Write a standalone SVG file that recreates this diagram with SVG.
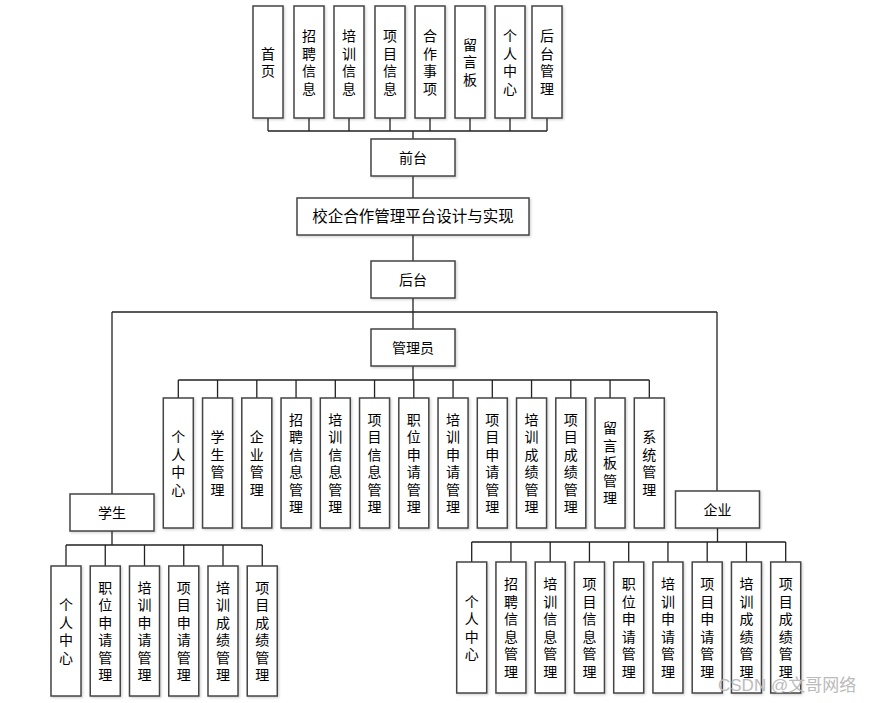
<svg xmlns="http://www.w3.org/2000/svg" width="870" height="703" viewBox="0 0 870 703">
<defs>
<filter id="sh" x="-20%" y="-20%" width="140%" height="140%"><feDropShadow dx="1.2" dy="1.2" stdDeviation="0.8" flood-color="#000" flood-opacity="0.18"/></filter>
</defs>
<style>
.b{fill:#fff;stroke:#444;stroke-width:1.5;filter:url(#sh)}
.t{font-family:"Noto Sans CJK SC","Liberation Sans",sans-serif;font-size:14px;fill:#000;text-anchor:middle}
.v{writing-mode:vertical-rl;letter-spacing:3.5px}
.big{font-size:15.5px}
.c{fill:none;stroke:#222;stroke-width:1.3}
.wm{font-family:"Liberation Sans","Noto Sans CJK SC",sans-serif;font-size:17px;fill:#bbb}
</style>
<rect width="870" height="703" fill="#fff"/>
<g id="connectors" class="c">
<path d="M268,131H547M268,118V131M309,118V131M349,118V131M390,118V131M430,118V131M470,118V131M510,118V131M547,118V131M413,131V139"/>
<path d="M413,176V198M413,235V261M413,298V329M112,312H717M112,312V494M717,312V491"/>
<path d="M413,366V380M178.3,380H649.3M178.3,380V398M217.55,380V398M256.8,380V398M296.05,380V398M335.3,380V398M374.55,380V398M413.8,380V398M453.05,380V398M492.3,380V398M531.55,380V398M570.8,380V398M610.05,380V398M649.3,380V398"/>
<path d="M112,531V545M66,545H262.25M66,545V566M105.25,545V566M144.5,545V566M183.75,545V566M223,545V566M262.25,545V566"/>
<path d="M717.5,528V542M471.7,542H785.7M471.7,542V562M510.95,542V562M550.2,542V562M589.45,542V562M628.7,542V562M667.95,542V562M707.2,542V562M746.45,542V562M785.7,542V562"/>
</g>
<g id="front-items">
<g id="f1"><rect class="b" x="253" y="6" width="30" height="112"/><text class="t v" x="268" y="63.75">首页</text></g>
<g id="f2"><rect class="b" x="294" y="6" width="30" height="112"/><text class="t v" x="309" y="63.75">招聘信息</text></g>
<g id="f3"><rect class="b" x="334" y="6" width="30" height="112"/><text class="t v" x="349" y="63.75">培训信息</text></g>
<g id="f4"><rect class="b" x="375" y="6" width="30" height="112"/><text class="t v" x="390" y="63.75">项目信息</text></g>
<g id="f5"><rect class="b" x="415" y="6" width="30" height="112"/><text class="t v" x="430" y="63.75">合作事项</text></g>
<g id="f6"><rect class="b" x="455" y="6" width="30" height="112"/><text class="t v" x="470" y="63.75">留言板</text></g>
<g id="f7"><rect class="b" x="495" y="6" width="30" height="112"/><text class="t v" x="510" y="63.75">个人中心</text></g>
<g id="f8"><rect class="b" x="532" y="6" width="30" height="112"/><text class="t v" x="547" y="63.75">后台管理</text></g>
</g>
<g id="front"><rect class="b" x="371" y="139" width="84" height="37"/><text class="t" x="413" y="162.5">前台</text></g>
<g id="root"><rect class="b" x="297" y="198" width="232" height="37"/><text class="t big" x="413" y="222">校企合作管理平台设计与实现</text></g>
<g id="back"><rect class="b" x="371" y="261" width="84" height="37"/><text class="t" x="413" y="284.5">后台</text></g>
<g id="admin"><rect class="b" x="371" y="329" width="84" height="37"/><text class="t" x="413" y="352.5">管理员</text></g>
<g id="student"><rect class="b" x="70" y="494" width="84" height="37"/><text class="t" x="112" y="517.5">学生</text></g>
<g id="enterprise"><rect class="b" x="675.5" y="491" width="84" height="37"/><text class="t" x="717.5" y="514.5">企业</text></g>
<g id="admin-items">
<g id="a1"><rect class="b" x="163.3" y="398" width="30" height="130"/><text class="t v" x="178.3" y="464.75">个人中心</text></g>
<g id="a2"><rect class="b" x="202.55" y="398" width="30" height="130"/><text class="t v" x="217.55" y="464.75">学生管理</text></g>
<g id="a3"><rect class="b" x="241.8" y="398" width="30" height="130"/><text class="t v" x="256.8" y="464.75">企业管理</text></g>
<g id="a4"><rect class="b" x="281.05" y="398" width="30" height="130"/><text class="t v" x="296.05" y="464.75">招聘信息管理</text></g>
<g id="a5"><rect class="b" x="320.3" y="398" width="30" height="130"/><text class="t v" x="335.3" y="464.75">培训信息管理</text></g>
<g id="a6"><rect class="b" x="359.55" y="398" width="30" height="130"/><text class="t v" x="374.55" y="464.75">项目信息管理</text></g>
<g id="a7"><rect class="b" x="398.8" y="398" width="30" height="130"/><text class="t v" x="413.8" y="464.75">职位申请管理</text></g>
<g id="a8"><rect class="b" x="438.05" y="398" width="30" height="130"/><text class="t v" x="453.05" y="464.75">培训申请管理</text></g>
<g id="a9"><rect class="b" x="477.3" y="398" width="30" height="130"/><text class="t v" x="492.3" y="464.75">项目申请管理</text></g>
<g id="a10"><rect class="b" x="516.55" y="398" width="30" height="130"/><text class="t v" x="531.55" y="464.75">培训成绩管理</text></g>
<g id="a11"><rect class="b" x="555.8" y="398" width="30" height="130"/><text class="t v" x="570.8" y="464.75">项目成绩管理</text></g>
<g id="a12"><rect class="b" x="595.05" y="398" width="30" height="130"/><text class="t v" x="610.05" y="464.75">留言板管理</text></g>
<g id="a13"><rect class="b" x="634.3" y="398" width="30" height="130"/><text class="t v" x="649.3" y="464.75">系统管理</text></g>
</g>
<g id="student-items">
<g id="s1"><rect class="b" x="51" y="566" width="30" height="130"/><text class="t v" x="66" y="632.75">个人中心</text></g>
<g id="s2"><rect class="b" x="90.25" y="566" width="30" height="130"/><text class="t v" x="105.25" y="632.75">职位申请管理</text></g>
<g id="s3"><rect class="b" x="129.5" y="566" width="30" height="130"/><text class="t v" x="144.5" y="632.75">培训申请管理</text></g>
<g id="s4"><rect class="b" x="168.75" y="566" width="30" height="130"/><text class="t v" x="183.75" y="632.75">项目申请管理</text></g>
<g id="s5"><rect class="b" x="208" y="566" width="30" height="130"/><text class="t v" x="223" y="632.75">培训成绩管理</text></g>
<g id="s6"><rect class="b" x="247.25" y="566" width="30" height="130"/><text class="t v" x="262.25" y="632.75">项目成绩管理</text></g>
</g>
<g id="enterprise-items">
<g id="e1"><rect class="b" x="456.7" y="562" width="30" height="131"/><text class="t v" x="471.7" y="629.25">个人中心</text></g>
<g id="e2"><rect class="b" x="495.95" y="562" width="30" height="131"/><text class="t v" x="510.95" y="629.25">招聘信息管理</text></g>
<g id="e3"><rect class="b" x="535.2" y="562" width="30" height="131"/><text class="t v" x="550.2" y="629.25">培训信息管理</text></g>
<g id="e4"><rect class="b" x="574.45" y="562" width="30" height="131"/><text class="t v" x="589.45" y="629.25">项目信息管理</text></g>
<g id="e5"><rect class="b" x="613.7" y="562" width="30" height="131"/><text class="t v" x="628.7" y="629.25">职位申请管理</text></g>
<g id="e6"><rect class="b" x="652.95" y="562" width="30" height="131"/><text class="t v" x="667.95" y="629.25">培训申请管理</text></g>
<g id="e7"><rect class="b" x="692.2" y="562" width="30" height="131"/><text class="t v" x="707.2" y="629.25">项目申请管理</text></g>
<g id="e8"><rect class="b" x="731.45" y="562" width="30" height="131"/><text class="t v" x="746.45" y="629.25">培训成绩管理</text></g>
<g id="e9"><rect class="b" x="770.7" y="562" width="30" height="131"/><text class="t v" x="785.7" y="629.25">项目成绩管理</text></g>
</g>
<text class="wm" x="718" y="691">CSDN @文哥网络</text>
</svg>
